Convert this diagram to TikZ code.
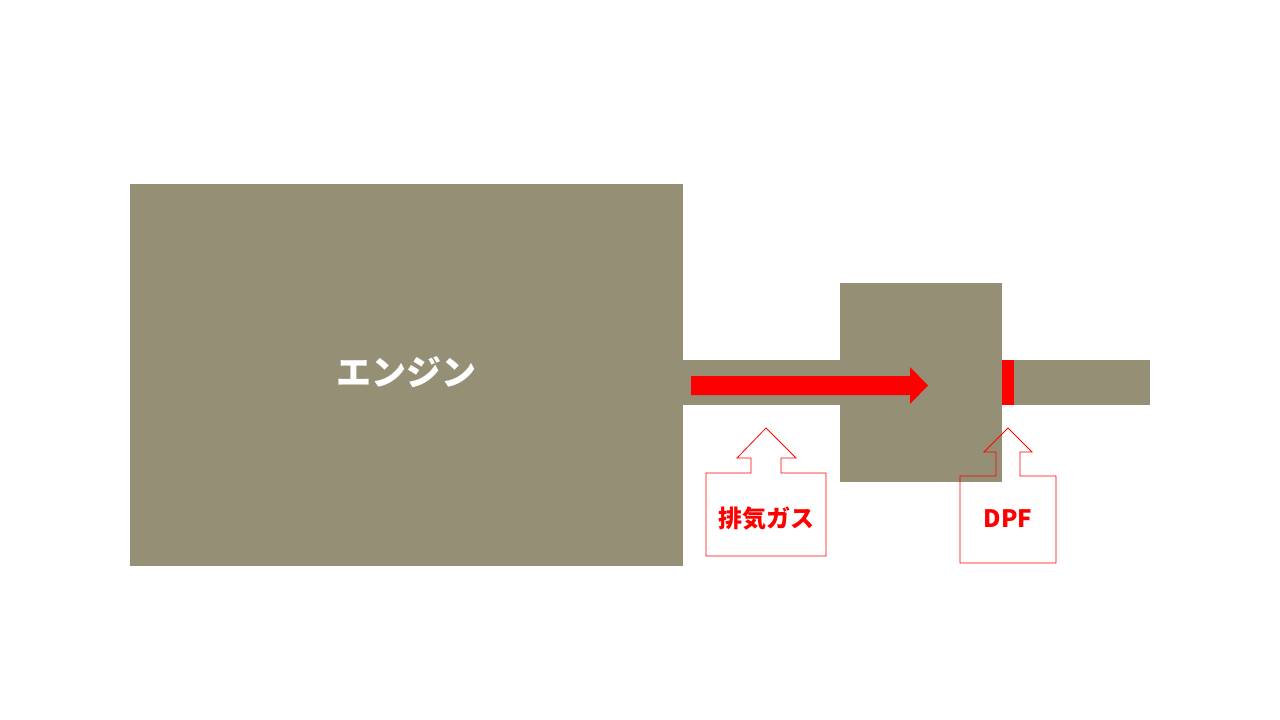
\documentclass[tikz,border=0pt]{standalone}
\usepackage{fontspec}
\newfontfamily\cjk{Noto Sans CJK JP}
\definecolor{olivegrey}{HTML}{948F75}
\definecolor{pure}{HTML}{FF0000}
\begin{document}
\begin{tikzpicture}[x=1pt,y=-1pt,
  block/.style={fill=olivegrey,draw=none},
  callout/.style={draw=pure,line width=0.8pt,line join=miter},
  lbl/.style={text=pure,font=\cjk\bfseries\fontsize{24}{28}\selectfont,inner sep=0pt}]
\useasboundingbox (0,0) rectangle (1280,720);
\fill[white] (0,0) rectangle (1280,720);
% engine
\fill[block] (130,184) rectangle (683,566);
\node[text=white,font=\cjk\bfseries\fontsize{35}{40}\selectfont,inner sep=0pt] (engine) at (406,372) {エンジン};
% pipes and DPF housing
\fill[block] (683,360) rectangle (840,405);
\fill[block] (840,283) rectangle (1002,482);
\fill[block] (1002,360) rectangle (1150,405);
\fill[pure] (1002,360) rectangle (1014,405);
% gas arrow
\coordinate (a0) at (691,385.5);
\fill[pure] (691,376) -- (910,376) -- (910,367) -- (928,385.5) -- (910,404) -- (910,395) -- (691,395) -- cycle;
% callout exhaust gas
\draw[callout] (706,556) -- (706,473) -- (751,473) -- (751,458) -- (737,458) -- (766,428) -- (796,458) -- (781,458) -- (781,473) -- (826,473) -- (826,556) -- cycle;
\node[lbl] (gas) at (766,519) {排気ガス};
% callout DPF
\draw[callout] (960,563) -- (960,476) -- (996,476) -- (996,452) -- (984,452) -- (1008,428) -- (1032,452) -- (1020,452) -- (1020,476) -- (1056,476) -- (1056,563) -- cycle;
\node[lbl] (dpf) at (1008,519) {DPF};
\end{tikzpicture}
\end{document}
